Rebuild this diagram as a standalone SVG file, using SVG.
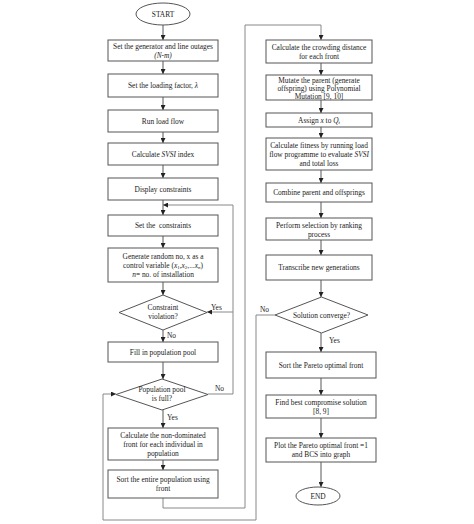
<svg xmlns="http://www.w3.org/2000/svg" width="474" height="524" viewBox="0 0 474 524">
<defs>
<marker id="ah" viewBox="0 0 6 6" refX="6" refY="3" markerWidth="5" markerHeight="5" orient="auto" markerUnits="userSpaceOnUse">
<path d="M0,0 L6,3 L0,6 Z" fill="#222"/>
</marker>
</defs>
<style>
.n{fill:#fff;stroke:#555;stroke-width:1}
.t{font-family:"Liberation Serif","Times New Roman",serif;font-size:7.4px;fill:#222;text-anchor:middle}
.l{font-family:"Liberation Serif","Times New Roman",serif;font-size:7.4px;fill:#222}
.i{font-style:italic}
.s{font-size:5px}
.c{fill:none;stroke:#444;stroke-width:0.9}
.g{fill:none;stroke:#888;stroke-width:1}
.a{marker-end:url(#ah)}
</style>
<rect width="474" height="524" fill="#fff"/>
<g id="connectors">
<line class="c a" x1="163" y1="25" x2="163" y2="40"/>
<line class="c a" x1="163" y1="61" x2="163" y2="74"/>
<line class="c a" x1="163" y1="97" x2="163" y2="110"/>
<line class="c a" x1="163" y1="132" x2="163" y2="143"/>
<line class="c a" x1="163" y1="165" x2="163" y2="178"/>
<line class="c a" x1="163" y1="200" x2="163" y2="215"/>
<line class="c a" x1="163" y1="236" x2="163" y2="248"/>
<line class="c a" x1="163" y1="282" x2="163" y2="295"/>
<line class="c a" x1="163" y1="330" x2="163" y2="342"/>
<line class="c a" x1="163" y1="362" x2="163" y2="379"/>
<line class="c a" x1="163" y1="410" x2="163" y2="428"/>
<line class="c a" x1="163" y1="460" x2="163" y2="470"/>
<polyline class="g a" points="233,312 207,312"/>
<polyline class="g a" points="208,394 233,394 233,205 163,205"/>
<polyline class="g a" points="163,498 163,508 245,508 245,25 321,25 321,40"/>
<line class="c a" x1="321" y1="63" x2="321" y2="75"/>
<line class="c a" x1="321" y1="100" x2="321" y2="113"/>
<line class="c a" x1="321" y1="127" x2="321" y2="138"/>
<line class="c a" x1="321" y1="170" x2="321" y2="183"/>
<line class="c a" x1="321" y1="202" x2="321" y2="218"/>
<line class="c a" x1="321" y1="240" x2="321" y2="255"/>
<line class="c a" x1="321" y1="280" x2="321" y2="297"/>
<line class="c a" x1="321" y1="333" x2="321" y2="352"/>
<line class="c a" x1="321" y1="378" x2="321" y2="395"/>
<line class="c a" x1="321" y1="418" x2="321" y2="438"/>
<line class="c a" x1="321" y1="462" x2="321" y2="487"/>
<polyline class="g a" points="275,315 256,315 256,520 103,520 103,394 116,394"/>
<text class="l" x="211" y="310">Yes</text>
<text class="l" x="167" y="338">No</text>
<text class="l" x="215" y="391">No</text>
<text class="l" x="167" y="420">Yes</text>
<text class="l" x="260" y="312">No</text>
<text class="l" x="329" y="343">Yes</text>
</g>
<g id="start"><ellipse class="n" cx="163" cy="14" rx="27" ry="11"/><text class="t" x="163" y="16.5">START</text></g>
<g id="b1"><rect class="n" x="108" y="40" width="110" height="21"/><text class="t" x="163" y="49">Set the generator and line outages</text><text class="t i" x="163" y="58">(N-m)</text></g>
<g id="b2"><rect class="n" x="108" y="74" width="110" height="23"/><text class="t" x="163" y="88">Set the loading factor, <tspan class="i">λ</tspan></text></g>
<g id="b3"><rect class="n" x="108" y="110" width="110" height="22"/><text class="t" x="163" y="123.5">Run load flow</text></g>
<g id="b4"><rect class="n" x="108" y="143" width="110" height="22"/><text class="t" x="163" y="156.5">Calculate <tspan class="i">SVSI</tspan> index</text></g>
<g id="b5"><rect class="n" x="108" y="178" width="110" height="22"/><text class="t" x="163" y="191.5">Display constraints</text></g>
<g id="b6"><rect class="n" x="108" y="215" width="110" height="21"/><text class="t" x="163" y="228" xml:space="preserve">Set the  constraints</text></g>
<g id="b7"><rect class="n" x="108" y="248" width="110" height="34"/><text class="t" x="163" y="258.5">Generate random no, x as a</text><text class="t" x="163" y="267.5">control variable (<tspan class="i">x</tspan><tspan class="s" dy="1.5">1</tspan><tspan dy="-1.5">,</tspan><tspan class="i">x</tspan><tspan class="s" dy="1.5">2</tspan><tspan dy="-1.5">,...</tspan><tspan class="i">x</tspan><tspan class="s i" dy="1.5">n</tspan><tspan dy="-1.5">)</tspan></text><text class="t" x="163" y="276.5"><tspan class="i">n</tspan>= no. of installation</text></g>
<g id="d1"><polygon class="n" points="163,295 207,312.5 163,330 119,312.5"/><text class="t" x="163" y="310">Constraint</text><text class="t" x="163" y="319">violation?</text></g>
<g id="b8"><rect class="n" x="108" y="342" width="110" height="20"/><text class="t" x="163" y="354.5">Fill in population pool</text></g>
<g id="d2"><polygon class="n" points="162,379 208,394.5 162,410 116,394.5"/><text class="t" x="162" y="392">Population pool</text><text class="t" x="162" y="401">is full?</text></g>
<g id="b9"><rect class="n" x="108" y="428" width="110" height="32"/><text class="t" x="163" y="438">Calculate the non-dominated</text><text class="t" x="163" y="447">front for each individual in</text><text class="t" x="163" y="456">population</text></g>
<g id="b10"><rect class="n" x="108" y="470" width="110" height="28"/><text class="t" x="163" y="482">Sort the entire population using</text><text class="t" x="163" y="491">front</text></g>
<g id="r1"><rect class="n" x="266" y="40" width="106" height="23"/><text class="t" x="319" y="49.5">Calculate the crowding distance</text><text class="t" x="319" y="58.5">for each front</text></g>
<g id="r2"><rect class="n" x="266" y="75" width="106" height="25"/><text class="t" x="319" y="82.5">Mutate the parent (generate</text><text class="t" x="319" y="90.5">offspring) using Polynomial</text><text class="t" x="319" y="98.5">Mutation [9, 10]</text></g>
<g id="r3"><rect class="n" x="266" y="113" width="106" height="14"/><text class="t" x="319" y="122.5">Assign <tspan class="i">x</tspan> to <tspan class="i">Q</tspan><tspan class="s i" dy="1.5">t</tspan></text></g>
<g id="r4"><rect class="n" x="266" y="138" width="106" height="32"/><text class="t" x="319" y="147.5">Calculate fitness by running load</text><text class="t" x="319" y="156.5">flow programme to evaluate <tspan class="i">SVSI</tspan></text><text class="t" x="319" y="165.5">and total loss</text></g>
<g id="r5"><rect class="n" x="266" y="183" width="106" height="19"/><text class="t" x="319" y="195">Combine parent and offsprings</text></g>
<g id="r6"><rect class="n" x="266" y="218" width="106" height="22"/><text class="t" x="319" y="227.5">Perform selection by ranking</text><text class="t" x="319" y="236.5">process</text></g>
<g id="r7"><rect class="n" x="266" y="255" width="106" height="25"/><text class="t" x="319" y="270">Transcribe new generations</text></g>
<g id="d3"><polygon class="n" points="321.5,297 368,315 321.5,333 275,315"/><text class="t" x="321.5" y="317.5">Solution converge?</text></g>
<g id="r8"><rect class="n" x="266" y="352" width="110" height="26"/><text class="t" x="321" y="367.5">Sort the Pareto optimal front</text></g>
<g id="r9"><rect class="n" x="266" y="395" width="110" height="23"/><text class="t" x="321" y="404.5">Find best compromise solution</text><text class="t" x="321" y="413.5">[8, 9]</text></g>
<g id="r10"><rect class="n" x="266" y="438" width="110" height="24"/><text class="t" x="321" y="448">Plot the Pareto optimal front =1</text><text class="t" x="321" y="457">and BCS into graph</text></g>
<g id="end"><ellipse class="n" cx="318" cy="496" rx="22" ry="9"/><text class="t" x="318" y="498.5">END</text></g>
</svg>
